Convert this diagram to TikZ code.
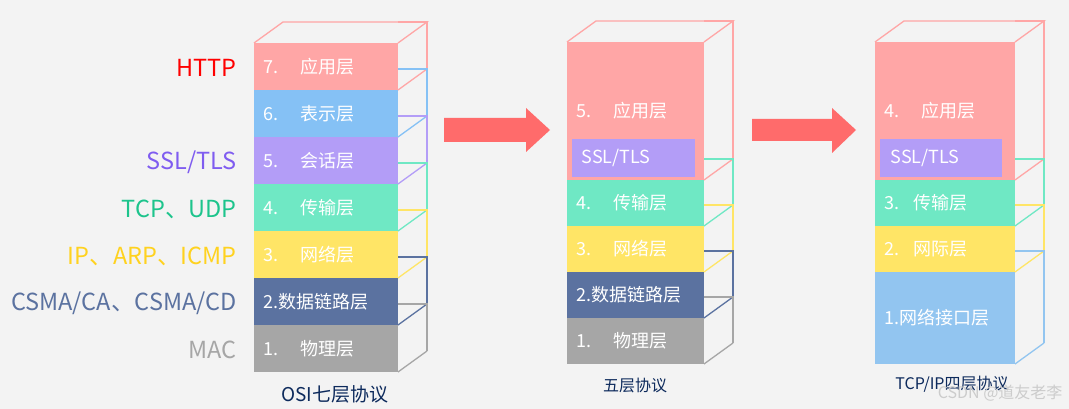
\documentclass[tikz,border=0pt]{standalone}
\usepackage{fontspec}
\setmainfont{Noto Sans CJK SC}
\definecolor{bg}{HTML}{F3F3F3}
\definecolor{cpink}{HTML}{FFA6A6}
\definecolor{cblue}{HTML}{85C1F5}
\definecolor{cpurp}{HTML}{B39DF7}
\definecolor{cgreen}{HTML}{6FE8C4}
\definecolor{cyel}{HTML}{FFE566}
\definecolor{cdark}{HTML}{5B72A0}
\definecolor{cgray}{HTML}{A6A6A6}
\definecolor{cnet}{HTML}{92C5F0}
\definecolor{carrow}{HTML}{FF6B6B}
\definecolor{lred}{HTML}{FF0000}
\definecolor{lpurp}{HTML}{7F5CF0}
\definecolor{lgreen}{HTML}{1DC48C}
\definecolor{lyel}{HTML}{FFD21F}
\definecolor{cap}{HTML}{0D2A5C}
\newcommand{\side}[4]{% x1 top bottom color
  \draw[#4,line width=1.3pt] (#1pt,{-(#2-21)*1pt}) -- ++(29pt,0) -- ++(0,{-(#3-#2)*1pt});
  \draw[#4,line width=1.3pt] (#1pt,-#3pt) -- ++(29pt,21pt);
}
\newcommand{\topf}[3]{% x0 x1 top
  \draw[cpink,line width=1.3pt] (#1pt,-#3pt) -- ++(29pt,21pt) -- ({(#2+29)*1pt},{-(#3-21)*1pt}) -- (#2pt,-#3pt);
}
\begin{document}
\begin{tikzpicture}[x=1pt,y=1pt,
  lt/.style={text=white,font=\fontsize{18}{18}\selectfont,anchor=west},
  lab/.style={font=\fontsize{23.5}{23.5}\selectfont,anchor=east},
  capt/.style={text=cap,font=\fontsize{19}{19}\selectfont}]
\fill[bg] (0,0) rectangle (1069,-409);
\useasboundingbox (0,0) rectangle (1069,-409);
% OSI
\topf{254}{398}{43}
\foreach \t/\b/\c in {43/90/cpink,90/137/cblue,137/184/cpurp,184/231/cgreen,231/278/cyel,278/325/cdark,325/372/cgray}{
  \fill[\c] (254,-\t) rectangle (398,-\b);
}
\foreach \t/\b/\c in {43/90/cpink,90/137/cblue,137/184/cpurp,184/231/cgreen,231/278/cyel,278/325/cdark,325/372/cgray}{
  \side{398}{\t}{\b}{\c}
}
\node[lt] (o7) at (260,-67) {7.\hspace{22pt}应用层};
\node[lt] (o6) at (260,-114) {6.\hspace{22pt}表示层};
\node[lt] (o5) at (260,-161) {5.\hspace{22pt}会话层};
\node[lt] (o4) at (260,-208) {4.\hspace{22pt}传输层};
\node[lt] (o3) at (260,-255) {3.\hspace{22pt}网络层};
\node[lt] (o2) at (260,-302) {2.数据链路层};
\node[lt] (o1) at (260,-349) {1.\hspace{22pt}物理层};
\node[lab,text=lred] (l7) at (240,-68) {HTTP};
\node[lab,text=lpurp] (l5) at (240,-162) {SSL/TLS};
\node[lab,text=lgreen] (l4) at (240,-209) {TCP、UDP};
\node[lab,text=lyel] (l3) at (240,-256) {IP、ARP、ICMP};
\node[lab,text=cdark] (l2) at (240,-303) {CSMA/CA、CSMA/CD};
\node[lab,text=cgray] (l1) at (240,-350) {MAC};
\node[capt] (c1) at (335,-394) {OSI七层协议};
% arrows
\fill[carrow] (444,-118) -- (526,-118) -- (526,-108) -- (550,-130) -- (526,-152) -- (526,-142) -- (444,-142) -- cycle;
\fill[carrow] (752,-119) -- (832,-119) -- (832,-108) -- (856,-130) -- (832,-153) -- (832,-141) -- (752,-141) -- cycle;
% five
\topf{567}{704}{42}
\foreach \t/\b/\c in {42/180/cpink,180/226/cgreen,226/272/cyel,272/318/cdark,318/364/cgray}{
  \fill[\c] (567,-\t) rectangle (704,-\b);
}
\foreach \t/\b/\c in {42/180/cpink,180/226/cgreen,226/272/cyel,272/318/cdark,318/364/cgray}{
  \side{704}{\t}{\b}{\c}
}
\fill[cpurp] (572,-139) rectangle (695,-177);
\node[lt] (f5) at (573,-111) {5.\hspace{22pt}应用层};
\node[lt] (fs) at (578,-158) {SSL/TLS};
\node[lt] (f4) at (573,-203) {4.\hspace{22pt}传输层};
\node[lt] (f3) at (573,-249) {3.\hspace{22pt}网络层};
\node[lt] (f2) at (573,-295) {2.数据链路层};
\node[lt] (f1) at (573,-341) {1.\hspace{22pt}物理层};
\node[capt,font=\fontsize{16}{16}\selectfont] (c2) at (635,-385) {五层协议};
% four
\topf{875}{1015}{42}
\foreach \t/\b/\c in {42/180/cpink,180/226/cgreen,226/272/cyel,272/364/cnet}{
  \fill[\c] (875,-\t) rectangle (1015,-\b);
}
\foreach \t/\b/\c in {42/180/cpink,180/226/cgreen,226/272/cyel,272/364/cnet}{
  \side{1015}{\t}{\b}{\c}
}
\fill[cpurp] (880,-139) rectangle (1002,-177);
\node[lt] (t4) at (881,-111) {4.\hspace{22pt}应用层};
\node[lt] (ts) at (887,-158) {SSL/TLS};
\node[lt] (t3) at (881,-203) {3.\hspace{14pt}传输层};
\node[lt] (t2) at (881,-249) {2.\hspace{14pt}网际层};
\node[lt] (t1) at (881,-318) {1.网络接口层};
\node[capt,font=\fontsize{16}{16}\selectfont] (c3) at (952,-384) {TCP/IP四层协议};
\node[text=gray!40,font=\fontsize{16}{16}\selectfont,anchor=east] (wm) at (1066,-393) {CSDN @道友老李};
\end{tikzpicture}
\end{document}
